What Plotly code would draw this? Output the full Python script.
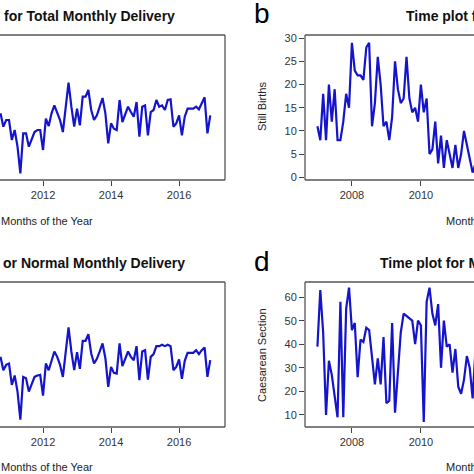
import plotly.graph_objects as go

# Panel a: Total monthly delivery (from Oct 2010, monthly) - relative units
total_delivery = [180,160,170,170,140,155,130,90,150,150,130,140,152,155,155,125,172,161,180,192,182,170,152,190,226,
                  190,160,187,162,205,205,215,185,170,177,190,203,180,135,165,157,155,200,167,180,190,182,175,197,145,
                  190,192,147,182,185,200,190,192,185,200,201,160,165,177,147,175,187,187,187,190,186,195,204,150,177]
total_start = 2010.75
# Panel c: Normal monthly delivery
normal_delivery = [170,150,158,160,128,142,118,76,140,138,118,128,140,142,143,112,160,150,166,178,170,158,140,180,214,
                   178,150,177,152,194,194,204,175,160,167,178,190,168,125,155,146,145,190,156,168,178,170,165,186,135,
                   178,180,136,170,174,186,186,188,186,188,186,150,155,166,137,164,176,176,176,180,174,180,184,140,165]
normal_start = 2010.75
# Panel b: Still births (from Jan 2007)
still_births = [11,8,18,8,20,12,19,8,8,12,18,15,
                29,23,22,22,21,28,29,11,16,26,20,11,
                12,8,13,25,19,16,17,26,17,14,15,12,
                20,14,17,5,6,12,3,9,2,8,5,2,
                7,2,5,10,7,4,1,3,3,4,2,5,3]
# Panel d: Caesarean section (from Jan 2007)
caesarean = [39,63,45,10,33,27,18,9,58,9,55,64,
             46,49,26,42,41,47,46,35,23,34,23,43,
             15,16,49,11,30,45,53,52,51,50,40,50,
             48,7,58,64,53,48,57,30,50,39,40,28,
             38,22,19,25,35,30,17,38,39,34,38,30]
series_start = 2007.0

def months(start, n):
    return [start + i / 12 for i in range(n)]

W = 474
def px(x): return x / W
def py(y): return 1 - y / W

fig = go.Figure()
line = dict(color="#1414CC", width=2.2)
fig.add_trace(go.Scatter(x=months(total_start, len(total_delivery)), y=total_delivery, mode="lines", line=line, xaxis="x", yaxis="y"))
fig.add_trace(go.Scatter(x=months(series_start, len(still_births)), y=still_births, mode="lines", line=line, xaxis="x2", yaxis="y2"))
fig.add_trace(go.Scatter(x=months(normal_start, len(normal_delivery)), y=normal_delivery, mode="lines", line=line, xaxis="x3", yaxis="y3"))
fig.add_trace(go.Scatter(x=months(series_start, len(caesarean)), y=caesarean, mode="lines", line=line, xaxis="x4", yaxis="y4"))

tickfont = dict(family="Liberation Sans", size=11, color="#333")
def xax(dom, rng, anchor, tickvals):
    return dict(domain=dom, range=rng, anchor=anchor, tickvals=tickvals, ticks="outside", ticklen=5,
                tickcolor="#444", showgrid=False, zeroline=False, showline=False, tickfont=tickfont,
                automargin=False)
def yax(dom, rng, anchor, tickvals, show):
    return dict(domain=dom, range=rng, anchor=anchor, tickvals=tickvals, ticks="outside" if show else "",
                ticklen=5, tickcolor="#444", showgrid=False, zeroline=False, showline=False,
                showticklabels=show, tickfont=tickfont, automargin=False, tickangle=0)

ya = [py(180), py(35)]
yc = [py(427), py(282)]
xl = [0, px(225)]
xr = [px(305), 1]
fig.update_layout(
    width=474, height=474, margin=dict(l=0, r=0, t=0, b=0, pad=0, autoexpand=False),
    plot_bgcolor="white", paper_bgcolor="white", showlegend=False,
    xaxis=xax(xl, [2010.735, 2017.35], "y", [2012, 2014, 2016]),
    yaxis=yax(ya, [80, 297.5], "x", [], False),
    xaxis2=xax(xr, [2006.64, 2011.54], "y2", [2008, 2010]),
    yaxis2=yax(ya, [-0.6, 30.7], "x2", [0, 5, 10, 15, 20, 25, 30], True),
    xaxis3=xax(xl, [2010.735, 2017.35], "y3", [2012, 2014, 2016]),
    yaxis3=yax(yc, [65, 282], "x3", [], False),
    xaxis4=xax(xr, [2006.64, 2011.54], "y4", [2008, 2010]),
    yaxis4=yax(yc, [4.9, 66.4], "x4", [10, 20, 30, 40, 50, 60], True),
)

shapes = []
lc = dict(color="#555", width=1.3)
for y0, y1 in [(ya[0], ya[1]), (yc[0], yc[1])]:
    shapes += [dict(type="line", xref="paper", yref="paper", x0=-0.01, x1=xl[1], y0=y0, y1=y0, line=lc),
               dict(type="line", xref="paper", yref="paper", x0=-0.01, x1=xl[1], y0=y1, y1=y1, line=lc),
               dict(type="line", xref="paper", yref="paper", x0=xl[1], x1=xl[1], y0=y0, y1=y1, line=lc),
               dict(type="line", xref="paper", yref="paper", x0=xr[0], x1=1.01, y0=y0, y1=y0, line=lc),
               dict(type="line", xref="paper", yref="paper", x0=xr[0], x1=1.01, y0=y1, y1=y1, line=lc),
               dict(type="line", xref="paper", yref="paper", x0=xr[0], x1=xr[0], y0=y0, y1=y1, line=lc)]
fig.update_layout(shapes=shapes)

tf = dict(family="Liberation Sans", size=14, color="#111")
lf = dict(family="Liberation Sans", size=11, color="#222")
def ann(text, x, y, xanchor, font, **kw):
    fig.add_annotation(text=text, x=px(x), y=py(y), xref="paper", yref="paper", xanchor=xanchor,
                       yanchor="middle", showarrow=False, font=font, **kw)
ann("<b>for Total Monthly Delivery</b>", 2, 16, "left", tf)
ann("<b>or Normal Monthly Delivery</b>", 1, 263, "left", tf)
ann("<b>Time plot fo</b>", 404, 16, "left", tf)
ann("<b>Time plot for Mo</b>", 378, 263, "left", tf)
ann("Months of the Year", -1, 221, "left", lf)
ann("Months of the Year", -1, 467, "left", lf)
ann("Month", 444, 221, "left", lf)
ann("Month", 444, 467, "left", lf)
ann("Still Births", 262, 107, "center", lf, textangle=-90)
ann("Caesarean Section", 262, 355, "center", lf, textangle=-90)
bf = dict(family="Liberation Sans", size=28, color="#000")
ann("b", 262, 13, "center", bf)
ann("d", 262, 261, "center", bf)

fig.write_html("out.html", config={"displayModeBar": False},
               post_script="document.body.style.margin='0';document.body.style.overflow='hidden';")
